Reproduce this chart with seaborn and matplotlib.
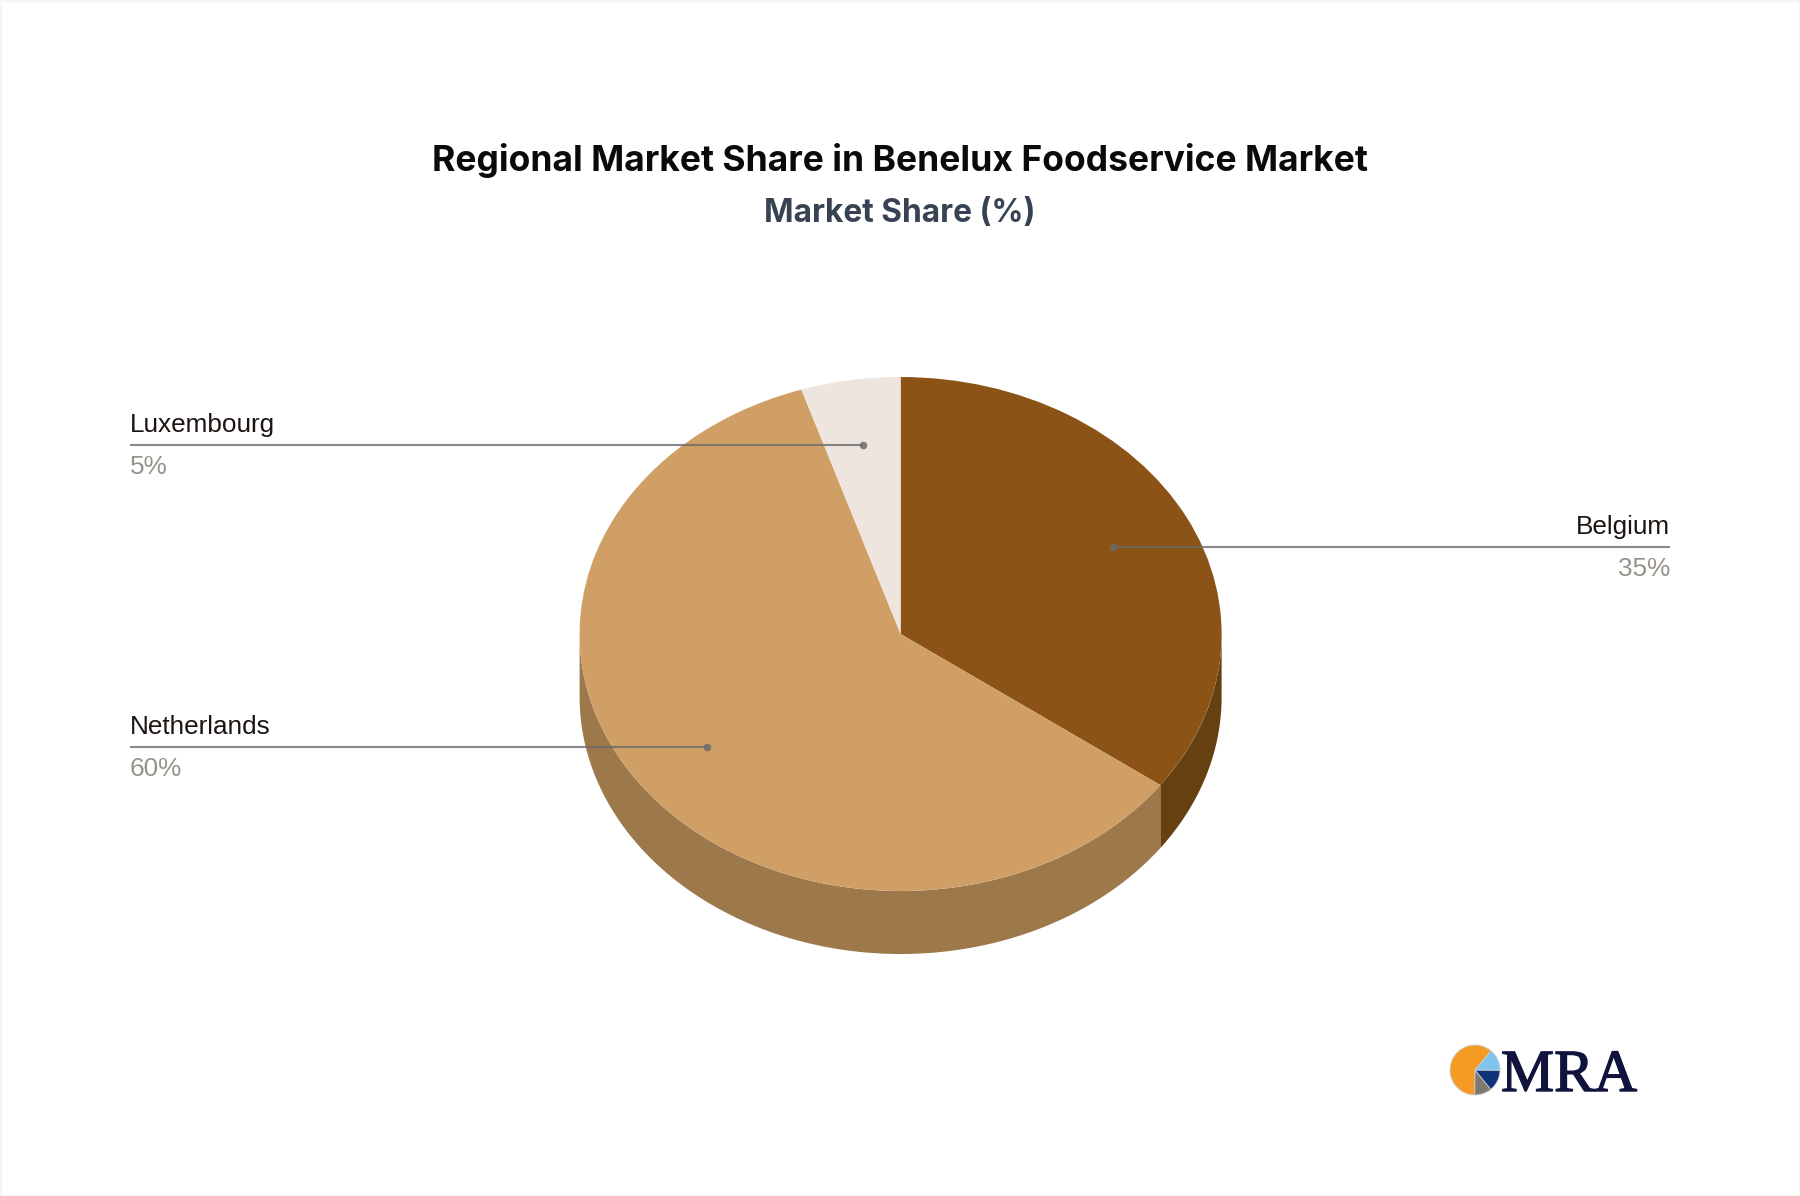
import numpy as np
import matplotlib
matplotlib.use("Agg")
import matplotlib.pyplot as plt
import matplotlib.patheffects as pe
from matplotlib.patches import Rectangle
import seaborn as sns

regions = ["Belgium", "Netherlands", "Luxembourg"]
shares = [35, 60, 5]
top_colors = ["#8B5416", "#CF9F66", "#EEE5DF"]
side_colors = ["#664011", "#9C784B", "#B3ACA7"]
title = "Regional Market Share in Benelux Foodservice Market"
subtitle = "Market Share (%)"
logo_shares = [61, 11, 14, 14]
logo_colors = ["#F59A23", "#7F7770", "#0F337A", "#7FC4EF"]
logo_text = "MRA"

W, H = 1800, 1196
CX, CY, RX, RY, DEPTH = 900.6, 634, 321, 257, 63

sns.set_theme(style="white")
plt.rcParams["font.family"] = ["Liberation Sans", "DejaVu Sans"]
palette = sns.color_palette(top_colors)
side_palette = sns.color_palette(side_colors)

fig = plt.figure(figsize=(W / 100, H / 100), dpi=100, facecolor="white")

# Pie axes: unit circle maps onto the ellipse of the tilted disc
ax = fig.add_axes([0, 0, 1, 1], zorder=1)
ax.pie(shares, colors=palette, startangle=90, counterclock=False, radius=1,
       wedgeprops=dict(linewidth=0, zorder=3))
ax.set_aspect("auto")
ax.set_xlim(-CX / RX, (W - CX) / RX)
ax.set_ylim(-(H - CY) / RY, CY / RY)
ax.axis("off")

# Side wall, derived from the cumulative shares (front half of the disc only)
d = DEPTH / RY
edges = np.cumsum([0] + shares) / sum(shares) * 2 * np.pi
for a, b, c in zip(edges[:-1], edges[1:], side_palette):
    lo, hi = max(a, np.pi / 2), min(b, 3 * np.pi / 2)
    if hi <= lo:
        continue
    t = np.linspace(lo, hi, 200)
    x, y = np.sin(t), np.cos(t)
    ax.fill(np.r_[x, x[::-1]], np.r_[y, (y - d)[::-1]], color=c, lw=0, zorder=2)

# Overlay in pixel coordinates for callouts
ov = fig.add_axes([0, 0, 1, 1], zorder=2)
ov.set_xlim(0, W)
ov.set_ylim(H, 0)
ov.axis("off")
ov.patch.set_alpha(0)
ov.add_patch(Rectangle((0.5, 0.5), W - 1, H - 1, fill=False, ec="#F5F5F5", lw=1.5))

line_c = "#6B6B6B"
callouts = [
    ("Luxembourg", "5%", 130, 863, 445, "left"),
    ("Netherlands", "60%", 130, 707, 747, "left"),
    ("Belgium", "35%", 1670, 1113, 547, "right"),
]
for name, pct, x0, x1, y, ha in callouts:
    ov.plot([x0, x1], [y, y], color=line_c, alpha=0.8, lw=1.5, solid_capstyle="butt")
    ov.plot([x1], [y], "o", color=line_c, alpha=0.85, ms=5.5, mew=0)
    ov.text(x0, y - 8, name, ha=ha, va="bottom", fontsize=18.8, color="#1B1410")
    ov.text(x0, y + 10, pct, ha=ha, va="top", fontsize=18.8, color="#97938B")

ov.text(900, 160, title, ha="center", va="center", fontsize=25.55, fontweight="bold",
        family=["Inter", "DejaVu Sans"], color="#0A0A0A")
ov.text(900, 213.5, subtitle, ha="center", va="center", fontsize=22.8, fontweight="bold",
        family=["Inter", "DejaVu Sans"], color="#374354")

# Logo
lax = fig.add_axes([(1475 - 26) / W, 1 - (1070 + 26) / H, 52 / W, 52 / H], zorder=3)
lax.pie(logo_shares, colors=sns.color_palette(logo_colors), startangle=50, counterclock=True,
        radius=1, wedgeprops=dict(linewidth=0.6, edgecolor="#CCCCCC"))
lax.set_xlim(-1.04, 1.04); lax.set_ylim(-1.04, 1.04)
ov.text(1501, 1091, logo_text, ha="left", va="baseline", fontsize=43,
        family=["Liberation Serif", "DejaVu Serif"], color="#10143C",
        path_effects=[pe.withStroke(linewidth=1.0, foreground="#10143C")])

fig.savefig("out.png", dpi=100, facecolor="white")
